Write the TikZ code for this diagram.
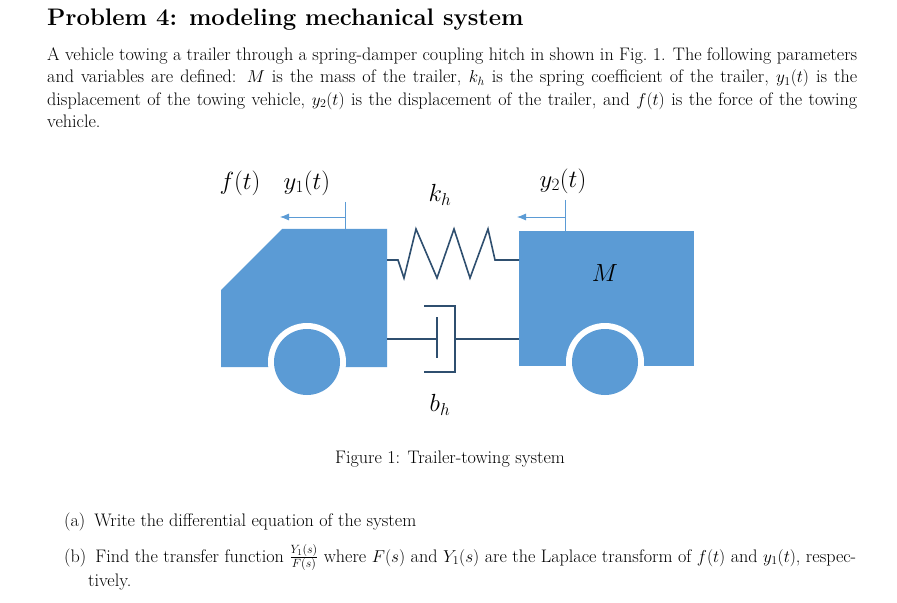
\documentclass[tikz,border=0pt]{standalone}
\usepackage{amsmath}
\usetikzlibrary{arrows.meta}
\begin{document}
\begin{tikzpicture}[x=1bp,y=-1bp,
  part/.style={fill=partblue, draw=none},
  mech/.style={draw=linedark, line width=1.6bp},
  meas/.style={draw=partblue, line width=0.8bp},
  txt/.style={inner sep=0pt, font=\fontsize{18.2}{23}\selectfont},
  lbl/.style={inner sep=0pt, font=\fontsize{24}{26}\selectfont}]
\definecolor{partblue}{HTML}{5B9BD5}
\definecolor{linedark}{HTML}{2F4F6F}
\useasboundingbox (0,0) rectangle (897,603);
\node[anchor=base west, inner sep=0pt, font=\fontsize{24}{26}\selectfont\bfseries] (title) at (47,26) {Problem 4: modeling mechanical system};
\node[anchor=north west, inner sep=0pt, text width=810bp, align=justify, font=\fontsize{18.2}{22.7}\selectfont] (para) at (47,47)
{A vehicle towing a trailer through a spring-damper coupling hitch in shown in Fig.~1. The following parameters and variables are defined: $M$ is the mass of the trailer, $k_h$ is the spring coefficient of the trailer, $y_1(t)$ is the displacement of the towing vehicle, $y_2(t)$ is the displacement of the trailer, and $f(t)$ is the force of the towing vehicle.};
% truck
\fill[partblue] (221,290) -- (282,229) -- (387,229) -- (387,367) -- (221,367) -- cycle;
\fill[white] (307,362) circle (39);
\node[part, circle, minimum size=66bp, inner sep=0pt] (w1) at (307,362) {};
% trailer
\fill[partblue] (519,231) rectangle (694,366);
\fill[white] (605,362) circle (39);
\node[part, circle, minimum size=66bp, inner sep=0pt] (w2) at (605,362) {};
\node[lbl] (M) at (605,273) {$M$};
% spring
\coordinate (s1) at (387,260); \coordinate (s2) at (519,260);
\draw[mech, line join=miter] (s1) -- (398,260) -- (404,278) -- (416,229) -- (437,278) -- (454,229) -- (470,278) -- (488,229) -- (495,260) -- (s2);
% damper
\coordinate (d1) at (387,339); \coordinate (d2) at (519,339);
\draw[mech] (d1) -- (437,339);
\draw[mech] (437,317) -- (437,358);
\draw[mech] (424,306) -- (455,306) -- (455,372) -- (424,372);
\draw[mech] (455,339) -- (d2);
% measures
\coordinate (t1a) at (345,202); \coordinate (t1b) at (345,229);
\draw[meas] (t1a) -- (t1b);
\draw[meas, -{Latex[length=9bp,width=7bp]}] (345,217) -- (280,217);
\coordinate (t2a) at (565,200); \coordinate (t2b) at (565,231);
\draw[meas] (t2a) -- (t2b);
\draw[meas, -{Latex[length=9bp,width=7bp]}] (565,217) -- (517,217);
\node[lbl] (ft) at (240,183) {$f(t)$};
\node[lbl] (y1) at (307,183) {$y_1(t)$};
\node[lbl] (kh) at (440,195) {$k_h$};
\node[lbl] (y2) at (563,181) {$y_2(t)$};
\node[lbl] (bh) at (440,405) {$b_h$};
\node[txt, anchor=base] (cap) at (450,463) {Figure 1: Trailer-towing system};
\node[txt, anchor=base west] (qa) at (64,526) {(a)\enspace Write the differential equation of the system};
\node[txt, anchor=base west] (qb) at (64,562) {(b)\enspace Find the transfer function $\frac{Y_1(s)}{F(s)}$ where $F(s)$ and $Y_1(s)$ are the Laplace transform of $f(t)$ and $y_1(t)$, respec-};
\node[txt, anchor=base west] (qc) at (88,586) {tively.};
\end{tikzpicture}
\end{document}
